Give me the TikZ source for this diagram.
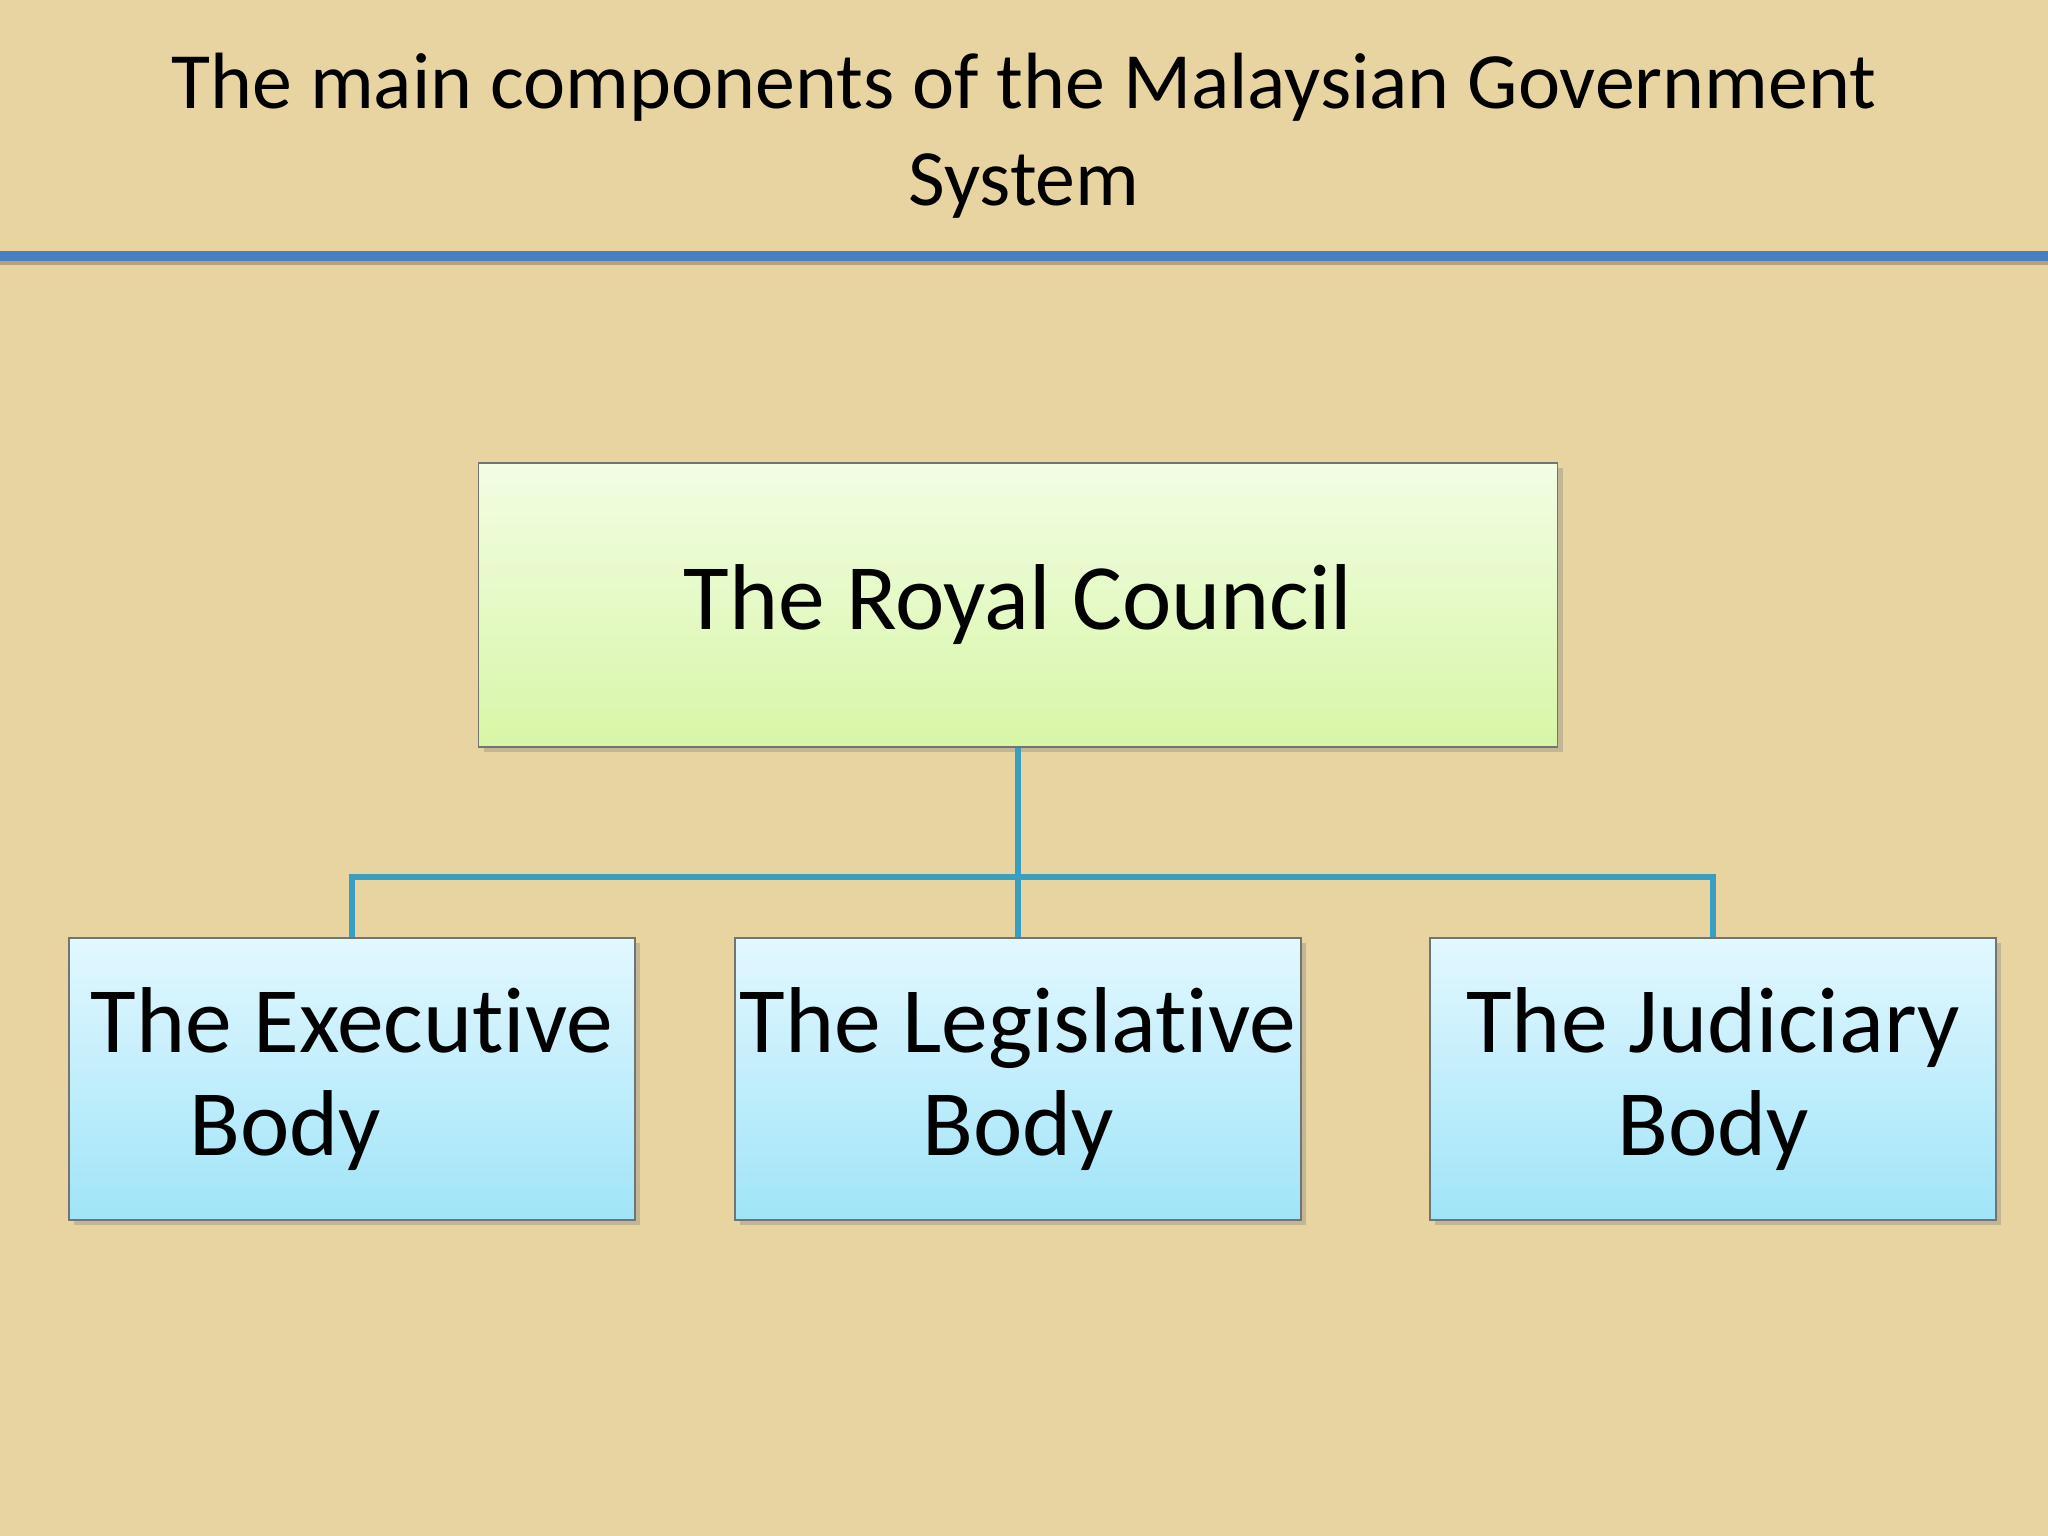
\documentclass[tikz,border=0pt]{standalone}
\usepackage{fontspec}
\setmainfont{Carlito}[Ligatures={NoCommon}]
\usetikzlibrary{shadows}
\definecolor{bg}{RGB}{232,212,160}
\definecolor{rulec}{RGB}{74,126,196}
\definecolor{conn}{RGB}{58,158,192}
\definecolor{gtop}{RGB}{242,253,228}
\definecolor{gbot}{RGB}{216,246,166}
\definecolor{btop}{RGB}{226,248,255}
\definecolor{bbot}{RGB}{160,228,248}
\definecolor{rshadow}{RGB}{150,130,90}
\begin{document}
\begin{tikzpicture}[x=0.01cm,y=-0.01cm,
  box/.style={draw=black!55, line width=0.5pt, rectangle, inner sep=0pt, align=center,
    drop shadow={shadow xshift=1.5pt, shadow yshift=-1.5pt, opacity=0.35}},
  topbox/.style={box, top color=gtop, bottom color=gbot, minimum width=1079*0.01cm, minimum height=284*0.01cm,
    font=\fontsize{26.6}{29.3}\selectfont},
  subbox/.style={box, top color=btop, bottom color=bbot, minimum width=566*0.01cm, minimum height=282*0.01cm,
    font=\fontsize{26.6}{29.3}\selectfont},
  link/.style={draw=conn, line width=1.7pt},
  titletext/.style={font=\fontsize{22.7}{27.6}\selectfont, align=center, inner sep=0pt}]
\fill[bg] (0,0) rectangle (2048,1536);
\useasboundingbox (0,0) rectangle (2048,1536);
\node[titletext] (title) at (1024,136) {The main components of the Malaysian Government\\System};
\coordinate (rl) at (0,256);
\coordinate (rr) at (2048,256);
\draw[rshadow, line width=1.3pt, opacity=0.6] ([yshift=-1.9pt]rl) -- ([yshift=-1.9pt]rr);
\draw[rulec, line width=2.6pt] (rl) -- (rr);
\node[topbox] (royal) at (1018,605) {The Royal Council};
\node[subbox, align=left] (exec) at (352,1079) {The Executive\\\hspace*{28pt}Body};
\node[subbox] (legis) at (1018,1079) {The Legislative\\Body};
\node[subbox] (judic) at (1713,1079) {The Judiciary\\Body};
\coordinate (hub) at (1018,877);
\draw[link] (royal.south) -- (hub);
\draw[link] (hub) -- (legis.north);
\draw[link] (exec.north) |- (hub) -| (judic.north);
\end{tikzpicture}
\end{document}
